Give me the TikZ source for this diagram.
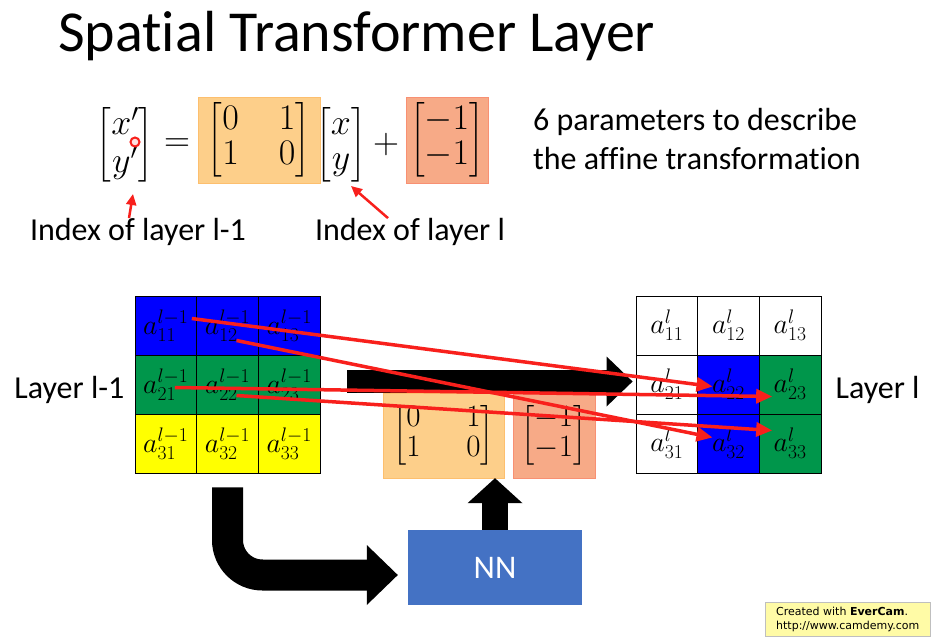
\RequirePackage{fix-cm}
\documentclass[tikz,border=0pt]{standalone}
\usepackage{amsmath}
\usepackage{fontspec}
\setmainfont{Carlito}[Ligatures=NoCommon]
\newfontfamily\evercamfont{DejaVu Sans}
\usetikzlibrary{arrows.meta,positioning}

\definecolor{matA}{HTML}{FDCF8A}
\definecolor{vecB}{HTML}{F7AA87}
\definecolor{blueC}{HTML}{0000FF}
\definecolor{greenC}{HTML}{00964B}
\definecolor{yellowC}{HTML}{FFFF00}
\definecolor{nnblue}{HTML}{4472C4}
\definecolor{arrowred}{HTML}{F8201C}
\definecolor{everY}{HTML}{FFFBA6}

\newcommand\widemat[5]{{\setlength\arraycolsep{#5}\begin{bmatrix}#1&#2\\#3&#4\end{bmatrix}}}

\begin{document}
\begin{tikzpicture}[
    x=1pt, y=-1pt,
    every node/.style={inner sep=0pt},
    txt/.style={font=\fontsize{32}{37}\selectfont},
    eqn/.style={font=\fontsize{36}{35}\selectfont},
    smalleqn/.style={font=\fontsize{31}{30}\selectfont},
    cell/.style={draw=black, line width=0.8pt, minimum width=61.7pt, minimum height=59pt, font=\fontsize{28}{33}\selectfont},
    redarrow/.style={draw=arrowred, line width=3.5pt, -{Triangle[length=16pt, width=14pt]}},
    pointer/.style={draw=arrowred, line width=2.5pt, -{Triangle[length=11pt, width=10pt]}},
    fatarrow/.style n args={3}{draw=black, line width=#1, -{Triangle[length=#2, width=#3, line width=0pt]}}
]

\fill[white] (0,0) rectangle (935,642);
\useasboundingbox (0,0) rectangle (935,642);

% Title
\node[anchor=base west, font=\fontsize{58}{64}\selectfont] (title) at (58,52) {Spatial Transformer Layer};

% Affine equation
\node[eqn] (lhs) at (125,145) {$\begin{bmatrix}x'\\y'\end{bmatrix}$};
\node[eqn] (eq) at (177,145) {$=$};
\node[eqn, fill=matA, draw=matA!80!orange, minimum width=122pt, minimum height=86pt] (A) at (259,140) {$\widemat{0}{1}{1}{0}{20pt}$};
\node[eqn] (xy) at (341,145) {$\begin{bmatrix}x\\y\end{bmatrix}$};
\node[eqn] (plus) at (386,145) {$+$};
\node[eqn, fill=vecB, draw=vecB!85!red, minimum width=82pt, minimum height=86pt] (B) at (447,140) {$\begin{bmatrix}-1\\-1\end{bmatrix}$};
\node[circle, draw=arrowred, line width=2pt, fill=red!12, minimum size=9pt] (cursor) at (135,142) {};

\node[txt, font=\fontsize{32}{39}\selectfont, align=left, anchor=north west] (desc) at (533,108) {6 parameters to describe\\the affine transformation};

% Index labels
\node[txt] (idxA) at (138,232) {Index of layer l-1};
\node[txt] (idxB) at (410,232) {Index of layer l};
\coordinate (ypt) at (133,194);
\coordinate (xpt) at (351,186);
\draw[pointer] ([shift={(-9,0)}]idxA.north) -- (ypt);
\draw[pointer] ([shift={(-22,0)}]idxB.north) -- (xpt);

% Layer l-1
\foreach \r/\fc in {1/blueC,2/greenC,3/yellowC}
  \foreach \c in {1,2,3}
    \node[cell, fill=\fc] (L\r\c) at ({135+61.67*(\c-0.5)},{296+59*(\r-0.5)}) {$a_{\r\c}^{l-1}$};

% Layer l
\foreach \r/\fa/\fb/\fd in {1/white/white/white,2/white/blueC/greenC,3/white/blueC/greenC}
  \foreach \c/\fx in {1/\fa,2/\fb,3/\fd}
    \node[cell, fill=\fx] (R\r\c) at ({636+61.67*(\c-0.5)},{296+59*(\r-0.5)}) {$a_{\r\c}^{l}$};

\node[txt, left=10pt of L21, yshift=-5pt] (layA) {Layer l-1};
\node[txt, right=14pt of R23, yshift=-5pt] (layB) {Layer l};

% Parameters
\node[smalleqn, fill=matA, draw=matA!80!orange, minimum width=121pt, minimum height=85pt] (M) at (443.5,435.5) {$\widemat{0}{1}{1}{0}{23pt}$};
\node[smalleqn, fill=vecB, draw=vecB!85!red, minimum width=82pt, minimum height=85pt] (T) at (554,435.5) {$\begin{bmatrix}-1\\-1\end{bmatrix}$};

% Network
\node[fill=nnblue, minimum width=174pt, minimum height=75pt, text=white, font=\fontsize{33}{38}\selectfont] (NN) at (495,567.5) {NN};

% Thick arrows
\draw[fatarrow={23pt}{26pt}{50pt}] ([shift={(27,-3)}]L23.east) -- ([shift={(-3,-3)}]R21.west);
\draw[fatarrow={31pt}{31pt}{60pt}, rounded corners=35pt] ([shift={(0,14)}]L32.south) |- ([shift={(-10,7.5)}]NN.west);
\draw[fatarrow={26pt}{25pt}{55pt}] (NN.north) -- (NN.north |- M.south);

% Sampling
\draw[redarrow] ([shift={(26,-7)}]L11.center) -- ([shift={(-16,2)}]R22.center);
\draw[redarrow] ([shift={(9,15)}]L12.center) -- ([shift={(-16,-6)}]R32.center);
\draw[redarrow] ([shift={(9,3)}]L21.center) -- ([shift={(-18,12)}]R23.center);
\draw[redarrow] ([shift={(9,11)}]L22.center) -- ([shift={(-18,-13)}]R33.center);

% Watermark
\node[draw=gray!50, fill=everY, anchor=north west, align=left, inner xsep=7pt, minimum width=165pt, minimum height=34pt, font=\evercamfont\fontsize{11}{14}\selectfont] (ever) at (765,602) {Created with \textbf{EverCam}.\\http://www.camdemy.com};

\end{tikzpicture}
\end{document}
